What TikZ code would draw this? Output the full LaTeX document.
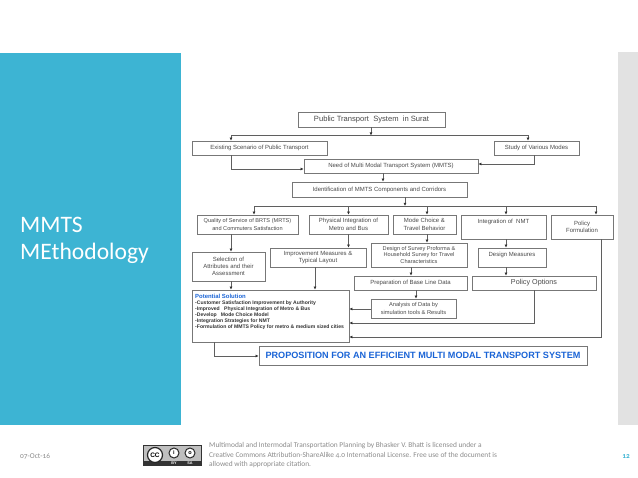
\documentclass[tikz,border=0pt]{standalone}
\usepackage{fontspec}
\setmainfont{Liberation Sans}
\newfontfamily\footfont[Numbers=OldStyle]{Carlito}
\usetikzlibrary{arrows.meta}
\definecolor{panelblue}{HTML}{3DB4D3}
\definecolor{solblue}{HTML}{1A64D6}
\definecolor{edgegray}{HTML}{777777}
\definecolor{textgray}{HTML}{4A4A4A}
\definecolor{footgray}{HTML}{8A8A8A}
\definecolor{stripegray}{HTML}{E2E2E2}
\tikzset{
	flowbox/.style={draw=edgegray, line width=.9pt, fill=white, text=textgray, align=center, inner sep=0pt,
		font=\fontsize{6}{7.3}\selectfont},
	link/.style={draw=edgegray!80!black, line width=.9pt},
	arrowlink/.style={link, -{Latex[length=3pt,width=3pt,black!80]}},
}
\begin{document}
\begin{tikzpicture}[x=1pt,y=-1pt]
	\useasboundingbox (0,0) rectangle (638,478);
	\fill[panelblue] (0,53) rectangle (181,425);
	\fill[stripegray] (618,52) rectangle (638,425);
	\node[anchor=west, text=white, align=left, inner sep=0pt, font=\footfont\fontsize{23.6}{27}\selectfont] (slidetitle) at (20,240.5) {MMTS\\MEthodology};

	% top part
	\node[flowbox, minimum width=147pt, minimum height=15pt, font=\fontsize{7.6}{9}\selectfont] (pts) at (371.5,119.5) {Public Transport~~System~~in Surat};
	\node[flowbox, minimum width=135pt, minimum height=14pt] (existing) at (259.5,148) {Existing Scenario of Public Transport};
	\node[flowbox, minimum width=85pt, minimum height=14pt] (study) at (536.5,148) {Study of Various Modes};
	\node[flowbox, minimum width=174pt, minimum height=14pt] (need) at (391,166) {Need of Multi Modal Transport System (MMTS)};
	\node[flowbox, minimum width=175pt, minimum height=15pt] (ident) at (379.5,189.5) {Identification of MMTS Components and Corridors};

	% row of themes
	\node[flowbox, minimum width=101pt, minimum height=19pt, font=\fontsize{5.6}{7.3}\selectfont] (quality) at (247.5,224.5) {Quality of Service of BRTS (MRTS)\\and Commuters Satisfaction};
	\node[flowbox, minimum width=79pt, minimum height=19pt] (physical) at (348.5,224.5) {Physical Integration of\\Metro and Bus};
	\node[flowbox, minimum width=63pt, minimum height=19pt] (mode) at (424.5,224.5) {Mode Choice \&\\Travel Behavior};
	\node[flowbox, minimum width=85pt, minimum height=24pt, text depth=12pt] (nmt) at (503.5,227) {Integration of~~NMT};
	\node[flowbox, minimum width=62pt, minimum height=24pt] (policy) at (582,227) {Policy\\Formulation};

	% second level
	\node[flowbox, minimum width=73pt, minimum height=29pt] (selection) at (228.5,266.5) {Selection of\\Attributes and their\\Assessment};
	\node[flowbox, minimum width=96pt, minimum height=19pt] (improve) at (318,257.5) {Improvement Measures \&\\Typical Layout};
	\node[flowbox, minimum width=96pt, minimum height=24pt, font=\fontsize{5.6}{6.8}\selectfont] (survey) at (419,255) {Design of Survey Proforma \&\\Household Survey for Travel\\Characteristics};
	\node[flowbox, minimum width=68pt, minimum height=19pt, text depth=6pt] (measures) at (512,257.5) {Design Measures};
	\node[flowbox, minimum width=113pt, minimum height=14pt] (baseline) at (410.5,283) {Preparation of Base Line Data};
	\node[flowbox, minimum width=124pt, minimum height=14pt, font=\fontsize{7.2}{8}\selectfont] (options) at (534,283) {Policy Options};
	\node[flowbox, minimum width=85pt, minimum height=19pt, font=\fontsize{5.7}{7.3}\selectfont] (analysis) at (413.5,308.5) {Analysis of Data by\\simulation tools \& Results};

	% result boxes
	\node[flowbox, minimum width=157pt, minimum height=52pt] (solution) at (270.5,316) {};
	\node[anchor=north west, align=left, inner sep=0pt, text=black!80, font=\bfseries\fontsize{5.1}{6.1}\selectfont] (solutiontext) at (195,293.5)
		{{\color{solblue}\fontsize{5.95}{6.1}\selectfont Potential Solution}\\-Customer Satisfaction Improvement by Authority\\-Improved~~~Physical Integration of Metro \& Bus\\-Develop~~~Mode Choice Model\\-Integration Strategies for NMT\\-Formulation of MMTS Policy for metro \& medium sized cities};
	\node[flowbox, minimum width=328pt, minimum height=19pt, text=solblue, font=\bfseries\fontsize{9.1}{10}\selectfont] (proposition) at (423,355.5) {PROPOSITION FOR AN EFFICIENT MULTI MODAL TRANSPORT SYSTEM};

	% busbars
	\coordinate (topbar) at (371,135.5);
	\coordinate (midbar) at (405,206);
	\draw[arrowlink] (pts.south -| topbar) -- (topbar);
	\draw[arrowlink] (topbar) -| (existing.north -| 231,0);
	\draw[arrowlink] (topbar) -| (study.north -| 528,0);
	\draw[arrowlink] (existing.south -| 231,0) |- (need.west |- 0,169);
	\draw[arrowlink] (study.south -| 534,0) |- (need.east |- 0,164);
	\draw[arrowlink] (need.south -| 383,0) -- (ident.north -| 383,0);
	\draw[arrowlink] (ident.south -| midbar) -- (midbar);
	\draw[arrowlink] (midbar) -| (quality.north -| 254,0);
	\draw[arrowlink] (midbar) -| (physical.north);
	\draw[arrowlink] (midbar) -| (mode.north -| 427,0);
	\draw[arrowlink] (midbar) -| (nmt.north -| 506,0);
	\draw[arrowlink] (midbar) -| (policy.north -| 596,0);

	\draw[arrowlink] (quality.south -| 231,0) -- (selection.north -| 231,0);
	\draw[arrowlink] (physical.south) -- (improve.north -| physical.south);
	\draw[arrowlink] (mode.south -| 427,0) -- (survey.north -| 427,0);
	\draw[arrowlink] (nmt.south -| 506,0) -- (measures.north -| 506,0);
	\draw[arrowlink] (survey.south -| 411,0) -- (baseline.north -| 411,0);
	\draw[arrowlink] (measures.south -| 506,0) -- (options.north -| 506,0);
	\draw[arrowlink] (baseline.south -| 416,0) -- (analysis.north -| 416,0);

	\draw[arrowlink] (selection.south -| 231,0) -- (solution.north -| 231,0);
	\draw[arrowlink] (improve.south -| 315,0) -- (solution.north -| 315,0);
	\draw[arrowlink] (analysis.west |- 0,309) -- (solution.east |- 0,309);
	\draw[arrowlink] (options.south -| 534,0) |- (solution.east |- 0,323);
	\draw[arrowlink] (policy.south -| 601,0) |- (solution.east |- 0,337);
	\draw[arrowlink] (solution.south -| 214,0) |- (proposition.west |- 0,356);

	% footer
	\node[anchor=west, text=footgray, inner sep=0pt, font=\footfont\fontsize{7.4}{9}\selectfont] (datelabel) at (20,456) {07-Oct-16};
	\node[anchor=west, align=left, text=footgray, inner sep=0pt, font=\footfont\fontsize{7.4}{9.5}\selectfont] (licence) at (209,455.5) {Multimodal and Intermodal Transportation Planning by Bhasker V. Bhatt is licensed under a\\Creative Commons Attribution-ShareAlike 4.0 International License. Free use of the document is\\allowed with appropriate citation.};
	\node[anchor=east, text=panelblue, inner sep=0pt, font=\footfont\bfseries\fontsize{7.4}{9}\selectfont] (pagenum) at (630,456.5) {12};

	% licence badge
	\fill[black!80] (143,445) rectangle (202,466);
	\fill[black!25] (144,446) rectangle (201,461);
	\node[circle, draw=black!85, line width=1.2pt, fill=white, minimum size=15pt, inner sep=0pt, font=\bfseries\fontsize{6.5}{7}\selectfont] (badgecc) at (155,455) {CC};
	\node[circle, draw=black!85, line width=1pt, fill=white, minimum size=10pt, inner sep=0pt, font=\bfseries\fontsize{5.5}{6}\selectfont] (badgeby) at (174,453) {i};
	\node[circle, draw=black!85, line width=1pt, fill=white, minimum size=10pt, inner sep=0pt, font=\bfseries\fontsize{5.5}{6}\selectfont] (badgesa) at (190,453) {o};
	\node[text=white, inner sep=0pt, font=\bfseries\fontsize{3.8}{4}\selectfont] (badgebytext) at (174,463.5) {BY};
	\node[text=white, inner sep=0pt, font=\bfseries\fontsize{3.8}{4}\selectfont] (badgesatext) at (190,463.5) {SA};
\end{tikzpicture}
\end{document}
